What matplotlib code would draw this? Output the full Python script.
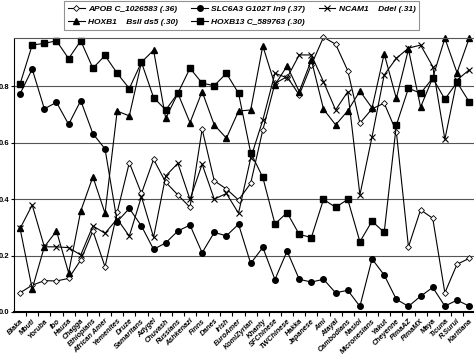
import numpy as np
import matplotlib
matplotlib.use("Agg")
import matplotlib.pyplot as plt

plt.rcParams['font.family'] = ['Liberation Sans', 'DejaVu Sans']

populations = ["Biaka", "Mbuti", "Yoruba", "Ibo", "Hausa", "Chagga", "Ethiopians",
               "African Amer", "Yemenites", "Druze", "Samaritans", "Adygei", "Chuvash",
               "Russians", "Ashkenazi", "Finns", "Danes", "Irish", "EuroAmer",
               "KomiZyrian", "Khanty", "SFChinese", "TWChinese", "Hakka", "Japanese",
               "Ami", "Atayal", "Cambodians", "Nasioi", "Micronesians", "Yakut",
               "Cheyenne", "PimaAZ", "PimaMX", "Maya", "Ticuna", "R.Surui", "Karitiana"]

apob = [0.068, 0.095, 0.111, 0.110, 0.119, 0.184, 0.287, 0.160, 0.353, 0.529,
        0.420, 0.541, 0.460, 0.415, 0.371, 0.648, 0.465, 0.436, 0.397, 0.456,
        0.645, 0.810, 0.834, 0.769, 0.876, 0.974, 0.949, 0.855, 0.669, 0.720,
        0.740, 0.639, 0.231, 0.362, 0.332, 0.068, 0.169, 0.190]

slc6a3 = [0.773, 0.861, 0.720, 0.743, 0.665, 0.749, 0.632, 0.578, 0.320, 0.367,
          0.305, 0.222, 0.245, 0.287, 0.308, 0.210, 0.282, 0.270, 0.311, 0.172,
          0.229, 0.115, 0.216, 0.116, 0.106, 0.116, 0.068, 0.077, 0.020, 0.188,
          0.131, 0.045, 0.020, 0.056, 0.087, 0.021, 0.042, 0.021]

ncam1 = [0.296, 0.379, 0.231, 0.231, 0.228, 0.202, 0.305, 0.279, 0.330, 0.269,
         0.409, 0.265, 0.482, 0.527, 0.399, 0.524, 0.400, 0.420, 0.350, 0.545,
         0.680, 0.846, 0.830, 0.911, 0.911, 0.816, 0.716, 0.781, 0.415, 0.621,
         0.840, 0.899, 0.935, 0.946, 0.870, 0.612, 0.822, 0.858]

hoxb1 = [0.296, 0.082, 0.231, 0.287, 0.139, 0.358, 0.479, 0.350, 0.712, 0.695,
         0.885, 0.928, 0.686, 0.775, 0.671, 0.781, 0.663, 0.616, 0.712, 0.716,
         0.943, 0.805, 0.872, 0.781, 0.893, 0.719, 0.663, 0.713, 0.783, 0.723,
         0.915, 0.757, 0.931, 0.726, 0.830, 0.970, 0.848, 0.970]

hoxb13 = [0.808, 0.946, 0.952, 0.961, 0.898, 0.961, 0.864, 0.909, 0.846, 0.792,
          0.885, 0.760, 0.716, 0.775, 0.864, 0.811, 0.802, 0.846, 0.775, 0.565,
          0.477, 0.312, 0.352, 0.275, 0.264, 0.399, 0.371, 0.399, 0.249, 0.322,
          0.282, 0.662, 0.793, 0.775, 0.829, 0.754, 0.814, 0.745]

labels = ["APOB C_1026583 (.36)", "SLC6A3 G102T In9 (.37)", "NCAM1    DdeI (.31)",
          "HOXB1    BslI ds5 (.30)", "HOXB13 C_589763 (.30)"]

x = np.arange(len(populations))

fig = plt.figure(figsize=(4.74, 3.54), dpi=100)
ax = fig.add_axes([14 / 474, 42 / 354, 460 / 474, 274 / 354])

kw = dict(color='black', lw=0.8, clip_on=False)
h_apob, = ax.plot(x, apob, marker='D', ms=3, mfc='white', mec='black', mew=0.6, label=labels[0], **kw)
h_slc, = ax.plot(x, slc6a3, marker='o', ms=4, mfc='black', mec='black', label=labels[1], **kw)
h_ncam, = ax.plot(x, ncam1, marker='x', ms=4, mew=0.8, label=labels[2], **kw)
h_hoxb1, = ax.plot(x, hoxb1, marker='^', ms=4, mfc='black', mec='black', label=labels[3], **kw)
h_hoxb13, = ax.plot(x, hoxb13, marker='s', ms=4, mfc='black', mec='black', label=labels[4], **kw)

ax.set_xlim(-0.5, 37.4)
ax.set_ylim(0, 0.971)
ax.set_yticks([0.0, 0.2, 0.4, 0.6, 0.8])
ax.set_yticklabels(["0.0", "0.2", "0.4", "0.6", "0.8"], fontsize=5.5, fontweight='bold')
ax.tick_params(axis='y', length=2.5, width=0.8, pad=0.5)
for v in [0.2, 0.4, 0.6, 0.8]:
    ax.axhline(v, color='#555555', lw=0.8, zorder=0)

ax.set_xticks(x)
ax.set_xticklabels(populations, rotation=45, ha='right', rotation_mode='anchor',
                   fontsize=5.2, fontweight='bold', fontstyle='italic')
ax.set_xticks(x[:-1] + 0.5, minor=True)
ax.tick_params(axis='x', which='major', length=0, pad=4)
ax.tick_params(axis='x', which='minor', length=3, width=0.8)

ax.spines['right'].set_visible(False)
ax.spines['top'].set_color('#555555')
ax.spines['top'].set_linewidth(0.8)
ax.spines['left'].set_linewidth(0.8)
ax.spines['bottom'].set_linewidth(1.5)

# order so that matplotlib's column filling reads row-wise
handles = [h_apob, h_hoxb1, h_slc, h_hoxb13, h_ncam]
leg = fig.legend(handles, [h.get_label() for h in handles],
                 loc='lower center', bbox_to_anchor=(0.51, 0.903), ncol=3,
                 frameon=True, fancybox=False, edgecolor='#777777',
                 prop=dict(size=6, weight='bold', style='italic'),
                 handlelength=2.0, columnspacing=1.6, handletextpad=0.4,
                 labelspacing=0.6, borderpad=0.5)
leg.get_frame().set_linewidth(0.8)

fig.savefig("out.png", dpi=100)
